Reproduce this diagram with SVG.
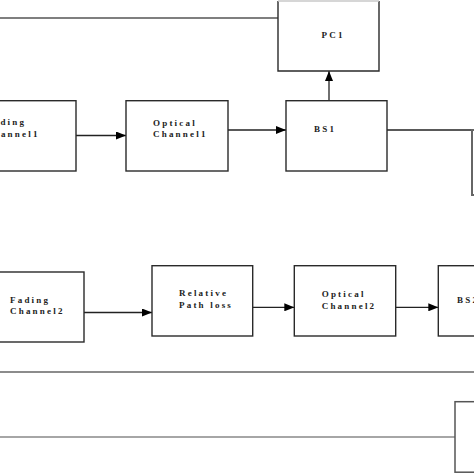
<svg xmlns="http://www.w3.org/2000/svg" width="474" height="474" viewBox="0 0 474 474">
<defs>
<style>
.box{fill:#fff;stroke:#2a2a2a;stroke-width:1.4}
.t{font-family:"Liberation Serif","Times New Roman",serif;font-size:9px;font-weight:bold;fill:#222;letter-spacing:2.2px}
.c{fill:none;stroke:#222;stroke-width:1.3}
.g{fill:none;stroke:#555;stroke-width:1.4}
</style>
<marker id="ah" viewBox="0 0 10 8" refX="10" refY="4" markerWidth="10" markerHeight="8" markerUnits="userSpaceOnUse" orient="auto">
<path d="M0,0 L10,4 L0,8 Z" fill="#000"/>
</marker>
</defs>
<rect width="474" height="474" fill="#fff"/>
<g id="connectors">
<line class="g" x1="0" y1="18" x2="278" y2="18"/>
<line class="c" x1="76" y1="135.5" x2="126" y2="135.5" marker-end="url(#ah)"/>
<line class="c" x1="228" y1="130" x2="286" y2="130" marker-end="url(#ah)"/>
<line class="c" x1="329" y1="100.7" x2="329" y2="71" marker-end="url(#ah)"/>
<polyline class="c" points="387,130 472,130"/>
<line class="c" x1="84" y1="312.5" x2="152" y2="312.5" marker-end="url(#ah)"/>
<line class="c" x1="252.7" y1="307.3" x2="294.3" y2="307.3" marker-end="url(#ah)"/>
<line class="c" x1="395.7" y1="307.3" x2="438.3" y2="307.3" marker-end="url(#ah)"/>
<line fill="none" stroke="#666" stroke-width="1.4" x1="0" y1="372" x2="474" y2="372"/>
<line fill="none" stroke="#888" stroke-width="1.4" x1="0" y1="437" x2="455" y2="437"/>
</g>
<g id="pc1">
<path d="M278,1 L278,71 L379,71 L379,1" class="box"/>
<line x1="278" y1="1" x2="379" y2="1" stroke="#c8c8c8" stroke-width="1.6"/>
<text class="t" x="321.5" y="37.5">PC1</text>
</g>
<g id="fading1">
<rect class="box" x="-40" y="100.7" width="116" height="70.3"/>
<text class="t" x="-14" y="125">Fading</text>
<text class="t" x="-15" y="136.7">Channel1</text>
</g>
<g id="optical1">
<rect class="box" x="126" y="100.7" width="102" height="70.3"/>
<text class="t" x="153" y="125.7">Optical</text>
<text class="t" x="153" y="136.7">Channel1</text>
</g>
<g id="bs1">
<rect class="box" x="286" y="100.7" width="101" height="70.3"/>
<text class="t" x="314" y="132">BS1</text>
</g>
<g id="rightbox1">
<rect x="472" y="130" width="20" height="65" fill="#fff" stroke="#666" stroke-width="2"/>
</g>
<g id="fading2">
<rect class="box" x="-30" y="272" width="114" height="70"/>
<text class="t" x="10" y="302.7">Fading</text>
<text class="t" x="10" y="313.5">Channel2</text>
</g>
<g id="pathloss">
<rect class="box" x="152" y="265.7" width="100.7" height="70.3"/>
<text class="t" x="179" y="295.7">Relative</text>
<text class="t" x="179" y="307.7">Path loss</text>
</g>
<g id="optical2">
<rect class="box" x="294.3" y="265.7" width="101.4" height="70.3"/>
<text class="t" x="321.7" y="296.7">Optical</text>
<text class="t" x="321.7" y="309.3">Channel2</text>
</g>
<g id="bs2">
<rect class="box" x="438.3" y="265.7" width="60" height="70.3"/>
<text class="t" x="457" y="302.7" letter-spacing="3">BS2</text>
</g>
<g id="bottombox">
<rect x="455" y="401.7" width="40" height="70.5" fill="#fff" stroke="#555" stroke-width="1.5"/>
</g>
</svg>
